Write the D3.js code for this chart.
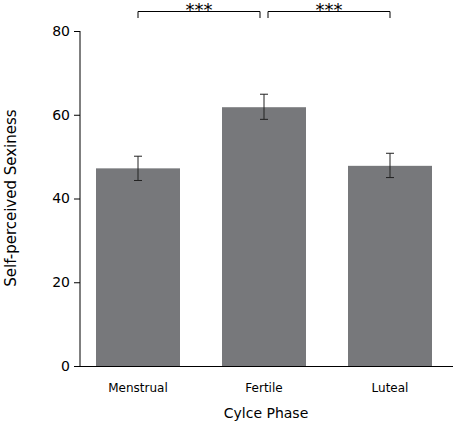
<!DOCTYPE html><html><head><meta charset="utf-8"><script src="https://cdn.jsdelivr.net/npm/d3@7"></script>
<style>body{margin:0;background:#fff}text{font-family:"DejaVu Sans",sans-serif}</style></head><body><svg id="c" width="474" height="424"></svg>
<script>
const categories=["Menstrual","Fertile","Luteal"];
const means=[47.2,61.8,47.8];
const errLow=[44.3,58.9,45.0];
const errHigh=[50.1,64.9,50.8];
const yTicks=[0,20,40,60,80];
const svg=d3.select("#c");
const x=d3.scaleBand().domain(categories).range([75,453]).paddingInner(1/3).paddingOuter(1/6);
const y=d3.scaleLinear().domain([0,80]).range([366,31]);
const g=svg.append("g");
g.selectAll("rect").data(categories).join("rect").attr("x",d=>x(d)).attr("width",x.bandwidth())
 .attr("y",(d,i)=>y(means[i])).attr("height",(d,i)=>y(0)-y(means[i])).attr("fill","#77787b");
categories.forEach((c,i)=>{const cx=x(c)+x.bandwidth()/2;
 g.append("line").attr("x1",cx).attr("x2",cx).attr("y1",y(errLow[i])).attr("y2",y(errHigh[i])).attr("stroke","#222");
 [errLow[i],errHigh[i]].forEach(v=>g.append("line").attr("x1",cx-4).attr("x2",cx+4).attr("y1",y(v)).attr("y2",y(v)).attr("stroke","#222"));});
const ya=svg.append("g").attr("transform","translate(80,0)").call(d3.axisLeft(y).tickValues(yTicks).tickSize(6).tickPadding(4));
ya.select(".domain").attr("d","M0,31V366");
ya.selectAll("text").attr("font-size",14).attr("font-family","DejaVu Sans");
svg.append("line").attr("x1",80).attr("x2",453).attr("y1",366.5).attr("y2",366.5).attr("stroke","#000");
categories.forEach(c=>svg.append("text").attr("x",x(c)+x.bandwidth()/2).attr("y",392).attr("text-anchor","middle").attr("font-size",12).text(c));
svg.append("text").attr("x",266).attr("y",418).attr("text-anchor","middle").attr("font-size",14).text("Cylce Phase");
svg.append("text").attr("transform","translate(16,198) rotate(-90)").attr("text-anchor","middle").attr("font-size",15).text("Self-perceived Sexiness");
const cen=i=>x(categories[i])+x.bandwidth()/2;
[[0,1,-2],[1,2,2]].forEach(([a,b,o])=>{const x1=cen(a)+(o>0?4:0),x2=cen(b)-(o<0?4:0);
 svg.append("path").attr("d",`M${x1},18V11.5H${x2}V18`).attr("fill","none").attr("stroke","#000");
 svg.append("text").attr("x",(x1+x2)/2).attr("y",16).attr("text-anchor","middle").attr("font-size",18).text("***");});
</script></body></html>
